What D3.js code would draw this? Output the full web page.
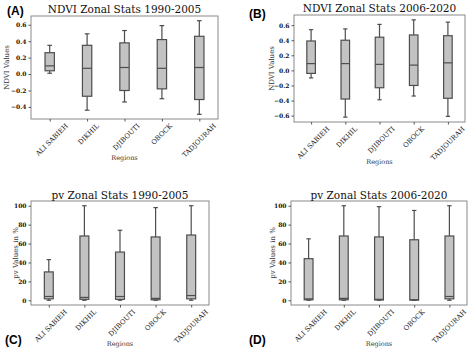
<!DOCTYPE html>
<html>
<head>
<meta charset="utf-8">
<script src="https://cdn.jsdelivr.net/npm/d3@7"></script>
<style>
  body { margin: 0; background: #fff; }
  svg text { font-family: "DejaVu Serif", serif; }
  .panel-tag { font-family: "Liberation Sans", Arial, sans-serif; font-weight: bold; }
</style>
</head>
<body>
<div id="wrapper"></div>
<script>
const regions = ["ALI SABIEH", "DIKHIL", "DJIBOUTI", "OBOCK", "TADJOURAH"];

// [whisker low, Q1, median, Q3, whisker high] per region
const ndvi1990 = [
  [0.01, 0.04, 0.10, 0.26, 0.35],
  [-0.44, -0.27, 0.07, 0.35, 0.49],
  [-0.34, -0.20, 0.08, 0.38, 0.53],
  [-0.30, -0.18, 0.07, 0.42, 0.59],
  [-0.49, -0.31, 0.08, 0.46, 0.65],
];
const ndvi2006 = [
  [-0.10, -0.04, 0.09, 0.39, 0.54],
  [-0.62, -0.38, 0.09, 0.40, 0.55],
  [-0.39, -0.23, 0.08, 0.44, 0.61],
  [-0.34, -0.20, 0.07, 0.47, 0.67],
  [-0.61, -0.37, 0.10, 0.46, 0.64],
];
const pv1990 = [
  [0, 1.5, 4, 30, 43],
  [0, 1, 3, 68, 100],
  [0, 1, 4, 51, 74],
  [0, 0.5, 2, 67, 98],
  [0, 1.5, 5, 69, 100],
];
const pv2006 = [
  [0, 0.5, 1.5, 44, 65],
  [0, 0.5, 2, 68, 100],
  [0, 0.3, 1, 67, 99],
  [0, 0.2, 0.5, 64, 95],
  [0, 1.5, 4, 68, 100],
];

const ndviTicks1990 = [-0.4, -0.2, 0.0, 0.2, 0.4, 0.6];
const ndviTicks2006 = [-0.6, -0.4, -0.2, 0.0, 0.2, 0.4, 0.6];
const pvTicks = [0, 20, 40, 60, 80, 100];

const panels = [
  { tag: "(A)", tagX: 7, tagY: 15, title: "NDVI Zonal Stats 1990-2005", yLabel: "NDVI Values",
    data: ndvi1990, ticks: ndviTicks1990, fmt: d3.format(".1f"),
    box: { left: 31, right: 218, top: 16, bottom: 119 }, titleY: 13, xLabelY: 160, yLabelX: 9 },
  { tag: "(B)", tagX: 249, tagY: 18, title: "NDVI Zonal Stats 2006-2020", yLabel: "NDVI Values",
    data: ndvi2006, ticks: ndviTicks2006, fmt: d3.format(".1f"),
    box: { left: 294, right: 465, top: 15, bottom: 122 }, titleY: 12, xLabelY: 164, yLabelX: 274 },
  { tag: "(C)", tagX: 5, tagY: 344, title: "pv Zonal Stats 1990-2005", yLabel: "pv Values in %",
    data: pv1990, ticks: pvTicks, fmt: d3.format("d"),
    box: { left: 31, right: 209, top: 201, bottom: 305 }, titleY: 199, xLabelY: 346, yLabelX: 18 },
  { tag: "(D)", tagX: 249, tagY: 344, title: "pv Zonal Stats 2006-2020", yLabel: "pv Values in %",
    data: pv2006, ticks: pvTicks, fmt: d3.format("d"),
    box: { left: 291, right: 467, top: 201, bottom: 305 }, titleY: 199, xLabelY: 346, yLabelX: 275 },
];

const wrapper = d3.select("#wrapper")
  .append("svg")
  .attr("width", 474)
  .attr("height", 354);

const fillColor = "#c3c3c3";
const strokeColor = "#4d4d4d";

panels.forEach((p) => {
  const b = p.box;
  const lo = d3.min(p.data, (d) => d[0]);
  const hi = d3.max(p.data, (d) => d[4]);
  const pad = (hi - lo) * 0.05;

  const yScale = d3.scaleLinear()
    .domain([lo - pad, hi + pad])
    .range([b.bottom, b.top]);

  const xScale = d3.scaleLinear()
    .domain([0.5, regions.length + 0.5])
    .range([b.left, b.right]);

  const g = wrapper.append("g");

  const boxW = xScale(1.25) - xScale(1);
  const capW = boxW / 2;

  const groups = g.selectAll("g.box")
    .data(p.data)
    .join("g")
    .attr("class", "box");

  const cx = (d, i) => xScale(i + 1);

  // whiskers
  groups.append("line")
    .attr("x1", cx).attr("x2", cx)
    .attr("y1", (d) => yScale(d[3])).attr("y2", (d) => yScale(d[4]))
    .attr("stroke", strokeColor).attr("stroke-width", 1.2);
  groups.append("line")
    .attr("x1", cx).attr("x2", cx)
    .attr("y1", (d) => yScale(d[1])).attr("y2", (d) => yScale(d[0]))
    .attr("stroke", strokeColor).attr("stroke-width", 1.2);
  // caps
  [0, 4].forEach((k) => {
    groups.append("line")
      .attr("x1", (d, i) => cx(d, i) - capW / 2)
      .attr("x2", (d, i) => cx(d, i) + capW / 2)
      .attr("y1", (d) => yScale(d[k])).attr("y2", (d) => yScale(d[k]))
      .attr("stroke", strokeColor).attr("stroke-width", 1.2);
  });
  // boxes
  groups.append("rect")
    .attr("x", (d, i) => cx(d, i) - boxW / 2)
    .attr("y", (d) => yScale(d[3]))
    .attr("width", boxW)
    .attr("height", (d) => yScale(d[1]) - yScale(d[3]))
    .attr("fill", fillColor)
    .attr("stroke", strokeColor).attr("stroke-width", 1.2);
  // medians
  groups.append("line")
    .attr("x1", (d, i) => cx(d, i) - boxW / 2)
    .attr("x2", (d, i) => cx(d, i) + boxW / 2)
    .attr("y1", (d) => yScale(d[2])).attr("y2", (d) => yScale(d[2]))
    .attr("stroke", strokeColor).attr("stroke-width", 1.2);

  // frame
  g.append("rect")
    .attr("x", b.left).attr("y", b.top)
    .attr("width", b.right - b.left).attr("height", b.bottom - b.top)
    .attr("fill", "none").attr("stroke", "#8a8a8a").attr("stroke-width", 1);

  // y axis
  const yAxis = g.append("g")
    .attr("transform", `translate(${b.left},0)`)
    .call(d3.axisLeft(yScale).tickValues(p.ticks).tickFormat(p.fmt).tickSize(2.5).tickPadding(2));
  yAxis.select(".domain").remove();
  yAxis.selectAll("line").attr("stroke", "#555");
  yAxis.selectAll("text")
    .style("font-family", "DejaVu Serif, serif")
    .style("font-weight", "bold")
    .style("font-size", "6px")
    .attr("fill", "#111");

  // x axis; labels rotated 45deg, end-anchored so the rotated box sits centred on the tick
  const fs = 6.8;
  const xAxis = g.append("g")
    .attr("transform", `translate(0,${b.bottom})`)
    .call(d3.axisBottom(xScale).tickValues(d3.range(1, regions.length + 1))
      .tickFormat((d) => regions[d - 1]).tickSize(2.5));
  xAxis.select(".domain").remove();
  xAxis.selectAll("line").attr("stroke", "#555");
  xAxis.selectAll("text")
    .style("font-family", "DejaVu Serif, serif")
    .style("font-size", fs + "px")
    .attr("fill", "#222")
    .attr("text-anchor", "end")
    .attr("dy", "0.7em")
    .attr("y", 0)
    .attr("transform", (d) => {
      const len = regions[d - 1].length * fs * 0.66;
      const shift = ((len + fs) * Math.SQRT1_2) / 2 - fs * 0.5;
      return `translate(${shift.toFixed(1)},4) rotate(-45)`;
    });

  const midX = (b.left + b.right) / 2;
  const midY = (b.top + b.bottom) / 2;

  g.append("text")
    .attr("x", midX).attr("y", p.titleY)
    .attr("text-anchor", "middle")
    .attr("fill", "#111")
    .style("font-size", "10.5px")
    .text(p.title);

  g.append("text")
    .attr("x", midX).attr("y", p.xLabelY)
    .attr("text-anchor", "middle")
    .style("font-size", "6.5px")
    .attr("fill", "#333")
    .text("Regions");

  g.append("text")
    .attr("transform", `translate(${p.yLabelX},${midY}) rotate(-90)`)
    .attr("text-anchor", "middle")
    .style("font-size", "7px")
    .attr("fill", "#333")
    .text(p.yLabel);

  wrapper.append("text")
    .attr("class", "panel-tag")
    .attr("x", p.tagX).attr("y", p.tagY)
    .attr("fill", "#000")
    .style("font-size", "12px")
    .text(p.tag);
});
</script>
</body>
</html>
